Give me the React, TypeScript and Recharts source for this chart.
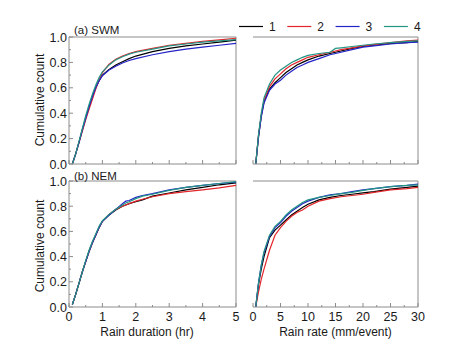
import React from 'react';
import { LineChart, Line, XAxis, YAxis, ReferenceLine } from 'recharts';

const FONT = '"Liberation Sans", Arial, Helvetica, sans-serif';
const FRAME = '#8c8c8c';
const INK = '#1a1a1a';

const seriesNames = ['1', '2', '3', '4'];
const seriesColors = ['#000000', '#e3262b', '#2424c8', '#239484'];

// (a) SWM - rain duration (hr)
const swmDurX = [0.1, 0.2, 0.3, 0.4, 0.5, 0.6, 0.7, 0.8, 0.9, 1.0, 1.2, 1.4, 1.6, 1.8, 2.0, 2.5, 3.0, 3.5, 4.0, 4.5, 5.0];
const swmDur1 = [0, 0.08, 0.17, 0.27, 0.36, 0.45, 0.53, 0.6, 0.655, 0.7, 0.745, 0.78, 0.805, 0.83, 0.85, 0.885, 0.91, 0.93, 0.945, 0.96, 0.975];
const swmDur2 = [0, 0.08, 0.17, 0.26, 0.35, 0.43, 0.51, 0.59, 0.66, 0.72, 0.785, 0.825, 0.85, 0.87, 0.885, 0.91, 0.935, 0.95, 0.965, 0.978, 0.99];
const swmDur3 = [0, 0.08, 0.17, 0.27, 0.36, 0.45, 0.53, 0.6, 0.655, 0.695, 0.74, 0.77, 0.795, 0.815, 0.83, 0.86, 0.885, 0.905, 0.92, 0.935, 0.95];
const swmDur4 = [0, 0.08, 0.18, 0.28, 0.38, 0.47, 0.55, 0.62, 0.68, 0.725, 0.78, 0.82, 0.845, 0.865, 0.88, 0.905, 0.93, 0.945, 0.96, 0.97, 0.98];

// (a) SWM - rain rate (mm/event)
const swmRateX = [0.5, 1, 1.5, 2, 3, 4, 5, 6, 7, 8, 9, 10, 12, 14, 15, 16, 18, 20, 22, 25, 28, 30];
const swmRate1 = [0, 0.22, 0.38, 0.49, 0.59, 0.64, 0.68, 0.72, 0.75, 0.78, 0.8, 0.82, 0.85, 0.87, 0.88, 0.89, 0.91, 0.925, 0.935, 0.95, 0.955, 0.965];
const swmRate2 = [0, 0.22, 0.38, 0.5, 0.61, 0.67, 0.71, 0.75, 0.78, 0.8, 0.82, 0.84, 0.86, 0.88, 0.89, 0.9, 0.915, 0.93, 0.94, 0.955, 0.97, 0.975];
const swmRate3 = [0, 0.21, 0.37, 0.48, 0.58, 0.63, 0.66, 0.7, 0.73, 0.76, 0.78, 0.8, 0.83, 0.86, 0.87, 0.88, 0.9, 0.92, 0.93, 0.945, 0.955, 0.96];
const swmRate4 = [0, 0.23, 0.4, 0.52, 0.63, 0.7, 0.74, 0.77, 0.8, 0.82, 0.84, 0.855, 0.87, 0.88, 0.91, 0.915, 0.925, 0.935, 0.945, 0.955, 0.965, 0.97];

// (b) NEM - rain duration (hr)
const nemDurX = [0.1, 0.2, 0.3, 0.4, 0.5, 0.6, 0.7, 0.8, 0.9, 1.0, 1.2, 1.4, 1.6, 1.7, 1.8, 2.0, 2.2, 2.5, 3.0, 3.5, 4.0, 4.5, 5.0];
const nemDur1 = [0.02, 0.1, 0.19, 0.28, 0.36, 0.44, 0.51, 0.57, 0.63, 0.68, 0.73, 0.77, 0.8, 0.81, 0.82, 0.835, 0.85, 0.88, 0.905, 0.93, 0.95, 0.97, 0.985];
const nemDur2 = [0.02, 0.1, 0.19, 0.28, 0.36, 0.44, 0.51, 0.57, 0.63, 0.68, 0.735, 0.775, 0.8, 0.81, 0.82, 0.84, 0.855, 0.875, 0.9, 0.915, 0.93, 0.945, 0.965];
const nemDur3 = [0.02, 0.1, 0.19, 0.28, 0.36, 0.44, 0.51, 0.57, 0.63, 0.68, 0.73, 0.775, 0.82, 0.84, 0.845, 0.87, 0.885, 0.9, 0.93, 0.95, 0.965, 0.98, 0.99];
const nemDur4 = [0.02, 0.1, 0.19, 0.28, 0.37, 0.45, 0.52, 0.58, 0.64, 0.685, 0.735, 0.775, 0.81, 0.825, 0.835, 0.86, 0.88, 0.895, 0.925, 0.95, 0.965, 0.98, 0.995];

// (b) NEM - rain rate (mm/event)
const nemRateX = [0.5, 1, 1.5, 2, 3, 4, 5, 6, 7, 8, 9, 10, 12, 14, 16, 18, 20, 22, 25, 28, 30];
const nemRate1 = [0, 0.18, 0.3, 0.4, 0.55, 0.61, 0.65, 0.69, 0.73, 0.76, 0.79, 0.815, 0.85, 0.87, 0.885, 0.895, 0.905, 0.915, 0.935, 0.95, 0.96];
const nemRate2 = [0, 0.12, 0.22, 0.3, 0.45, 0.57, 0.63, 0.68, 0.72, 0.75, 0.77, 0.8, 0.84, 0.86, 0.875, 0.885, 0.895, 0.91, 0.93, 0.94, 0.95];
const nemRate3 = [0, 0.19, 0.33, 0.43, 0.56, 0.63, 0.67, 0.72, 0.76, 0.79, 0.82, 0.84, 0.87, 0.89, 0.9, 0.915, 0.93, 0.94, 0.955, 0.965, 0.975];
const nemRate4 = [0, 0.19, 0.33, 0.44, 0.57, 0.64, 0.68, 0.73, 0.77, 0.8, 0.83, 0.85, 0.87, 0.885, 0.9, 0.91, 0.925, 0.94, 0.955, 0.965, 0.97];

const yTicks = [0, 0.1, 0.2, 0.3, 0.4, 0.5, 0.6, 0.7, 0.8, 0.9, 1.0];
const durTicks = [0, 0.5, 1, 1.5, 2, 2.5, 3, 3.5, 4, 4.5, 5];
const rateTicks = [0, 2.5, 5, 7.5, 10, 12.5, 15, 17.5, 20, 22.5, 25, 27.5, 30];

const buildRows = (xs: number[], ys: number[][]) =>
  xs.map((x, i) => {
    const row: Record<string, number> = { x };
    ys.forEach((s, k) => (row['s' + k] = s[i]));
    return row;
  });

// tickSize/tickMargin are 0, so x/y handed to the tick is the axis position itself
const yTick = (showLabel: boolean) => (props: any) => {
  const { x, y, payload } = props;
  const v = payload.value as number;
  const major = Math.round(v * 10) % 2 === 0;
  return (
    <g>
      <line x1={x} x2={x + (major ? 4 : 2)} y1={y} y2={y} stroke={FRAME} />
      {showLabel && major && (
        <text x={x - 2} y={y} dy={4.5} textAnchor="end" fontSize={12.5} fill={INK} fontFamily={FONT}>
          {v.toFixed(1)}
        </text>
      )}
    </g>
  );
};

const xTick = (showLabel: boolean, majorStep: number) => (props: any) => {
  const { x, y, payload } = props;
  const v = payload.value as number;
  const major = Math.abs(v / majorStep - Math.round(v / majorStep)) < 1e-6;
  return (
    <g>
      <line x1={x} x2={x} y1={y} y2={y - (major ? 4 : 2)} stroke={FRAME} />
      {showLabel && major && (
        <text x={x} y={y} dy={14} textAnchor="middle" fontSize={12.5} fill={INK} fontFamily={FONT}>
          {v}
        </text>
      )}
    </g>
  );
};

type PanelProps = {
  left: number;
  top: number;
  width: number;
  height: number;
  margin: { top: number; right: number; bottom: number; left: number };
  yAxisWidth: number;
  xAxisHeight: number;
  rows: Record<string, number>[];
  xMax: number;
  xTicks: number[];
  majorStep: number;
  xLabels: boolean;
  yLabels: boolean;
};

function Panel(p: PanelProps) {
  return (
    <div style={{ position: 'absolute', left: p.left, top: p.top }}>
      <LineChart width={p.width} height={p.height} data={p.rows} margin={p.margin}>
        <XAxis
          type="number"
          dataKey="x"
          domain={[0, p.xMax]}
          ticks={p.xTicks}
          interval={0}
          height={p.xAxisHeight}
          tickLine={false}
          tickSize={0}
          tickMargin={0}
          axisLine={{ stroke: FRAME }}
          tick={xTick(p.xLabels, p.majorStep)}
        />
        <YAxis
          type="number"
          domain={[0, 1]}
          ticks={yTicks}
          interval={0}
          width={p.yAxisWidth}
          tickLine={false}
          tickSize={0}
          tickMargin={0}
          axisLine={{ stroke: FRAME }}
          tick={yTick(p.yLabels)}
        />
        <ReferenceLine y={1} stroke={FRAME} />
        <ReferenceLine x={p.xMax} stroke={FRAME} />
        {seriesNames.map((name, k) => (
          <Line
            key={name}
            name={name}
            dataKey={'s' + k}
            type="linear"
            stroke={seriesColors[k]}
            strokeWidth={1.2}
            dot={false}
            isAnimationActive={false}
          />
        ))}
      </LineChart>
    </div>
  );
}

const leftMargin = (top: number, bottom: number) => ({ top, right: 9, bottom, left: 29 });
const rightMargin = (top: number, bottom: number) => ({ top, right: 56, bottom, left: 8 });

export default function App() {
  const txt = { fontFamily: FONT, fill: INK } as const;
  return (
    <div style={{ position: 'absolute', left: 0, top: 0, width: 474, height: 357, background: '#fff' }}>
      <Panel left={0} top={0} width={245} height={170} margin={leftMargin(37, 0)} yAxisWidth={40} xAxisHeight={6}
        rows={buildRows(swmDurX, [swmDur1, swmDur2, swmDur3, swmDur4])}
        xMax={5} xTicks={durTicks} majorStep={1} xLabels={false} yLabels />
      <Panel left={245} top={0} width={229} height={170} margin={rightMargin(37, 0)} yAxisWidth={0} xAxisHeight={6}
        rows={buildRows(swmRateX, [swmRate1, swmRate2, swmRate3, swmRate4])}
        xMax={30} xTicks={rateTicks} majorStep={5} xLabels={false} yLabels={false} />
      <Panel left={0} top={170} width={245} height={187} margin={leftMargin(11, 20)} yAxisWidth={40} xAxisHeight={30}
        rows={buildRows(nemDurX, [nemDur1, nemDur2, nemDur3, nemDur4])}
        xMax={5} xTicks={durTicks} majorStep={1} xLabels yLabels />
      <Panel left={245} top={170} width={229} height={187} margin={rightMargin(11, 20)} yAxisWidth={0} xAxisHeight={30}
        rows={buildRows(nemRateX, [nemRate1, nemRate2, nemRate3, nemRate4])}
        xMax={30} xTicks={rateTicks} majorStep={5} xLabels yLabels={false} />

      <svg width={474} height={357} style={{ position: 'absolute', left: 0, top: 0, pointerEvents: 'none' }}>
        <text x={74} y={34} fontSize={11.5} {...txt}>(a) SWM</text>
        <text x={74} y={180} fontSize={11.5} {...txt}>(b) NEM</text>
        <text transform="translate(44,100) rotate(-90)" textAnchor="middle" fontSize={12} {...txt}>Cumulative count</text>
        <text transform="translate(44,246) rotate(-90)" textAnchor="middle" fontSize={12} {...txt}>Cumulative count</text>
        <text x={147} y={336} textAnchor="middle" fontSize={12} {...txt}>Rain duration (hr)</text>
        <text x={335.5} y={336} textAnchor="middle" fontSize={12} {...txt}>Rain rate (mm/event)</text>
        {seriesNames.map((name, k) => {
          const x0 = 239 + k * 48.3;
          return (
            <g key={name}>
              <line x1={x0} x2={x0 + 24} y1={26.5} y2={26.5} stroke={seriesColors[k]} strokeWidth={1.2} />
              <text x={x0 + 30} y={31} fontSize={12} {...txt}>{name}</text>
            </g>
          );
        })}
      </svg>
    </div>
  );
}
